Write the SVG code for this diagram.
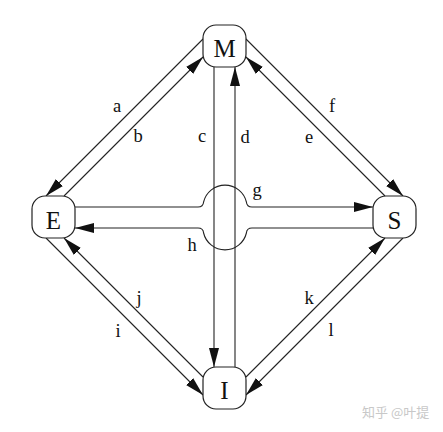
<svg xmlns="http://www.w3.org/2000/svg" width="443" height="432" viewBox="0 0 443 432">
<defs>
<marker id="arr" markerUnits="userSpaceOnUse" markerWidth="19" markerHeight="10" refX="19" refY="5" orient="auto">
<path d="M0,0 L19,5 L0,10 z" fill="#111"/>
</marker>
<style>
.node rect{fill:#fff;stroke:#222;stroke-width:1.2}
.node text{font-family:"Liberation Serif","Times New Roman",serif;font-size:25px;text-anchor:middle;fill:#111}
.conn path{fill:none;stroke:#222;stroke-width:1.1;marker-end:url(#arr)}
.lbl{font-family:"Liberation Serif","Times New Roman",serif;font-size:18.5px;text-anchor:middle;fill:#111}
.wm{font-family:"Noto Sans CJK SC","Noto Sans",sans-serif;font-size:13px;fill:#c8c8c8}
</style>
</defs>
<rect width="443" height="432" fill="#fff"/>
<g id="connectors" class="conn">
<path id="a" d="M203,39 L46,196"/>
<path id="b" d="M64,196 L203,57"/>
<path id="f" d="M246,39 L403,196"/>
<path id="e" d="M385,196 L246,57"/>
<path id="i" d="M46,238 L203,395"/>
<path id="j" d="M203,377 L64,238"/>
<path id="k" d="M246,377 L385,238"/>
<path id="l" d="M403,238 L246,395"/>
<path id="c" d="M214,67 L214,367"/>
<path id="d" d="M235,367 L235,67"/>
<path id="g" d="M75,207 H198 Q203.2,207 203.6,202 A22,22 0 0 1 246.4,202 Q246.8,207 252,207 H373"/>
<path id="h" d="M373,228 H252 Q246.8,228 246.4,233 A22,22 0 0 1 203.6,233 Q203.2,228 198,228 H75"/>
</g>
<g id="labels">
<text class="lbl" x="117" y="112">a</text>
<text class="lbl" x="138" y="142">b</text>
<text class="lbl" x="202" y="142">c</text>
<text class="lbl" x="245" y="143">d</text>
<text class="lbl" x="309" y="143">e</text>
<text class="lbl" x="332" y="112">f</text>
<text class="lbl" x="257" y="196">g</text>
<text class="lbl" x="192" y="251">h</text>
<text class="lbl" x="118" y="337">i</text>
<text class="lbl" x="139" y="304">j</text>
<text class="lbl" x="309" y="304">k</text>
<text class="lbl" x="331" y="336">l</text>
</g>
<g id="node-M" class="node"><rect x="203" y="25" width="43" height="42" rx="13"/><text x="224.5" y="57">M</text></g>
<g id="node-E" class="node"><rect x="32" y="196" width="43" height="42" rx="13"/><text x="53.5" y="229">E</text></g>
<g id="node-S" class="node"><rect x="373" y="196" width="43" height="42" rx="13"/><text x="394.5" y="229">S</text></g>
<g id="node-I" class="node"><rect x="203" y="367" width="43" height="42" rx="13"/><text x="224.5" y="399">I</text></g>
<text class="wm" x="362" y="417">知乎 @叶提</text>
</svg>
